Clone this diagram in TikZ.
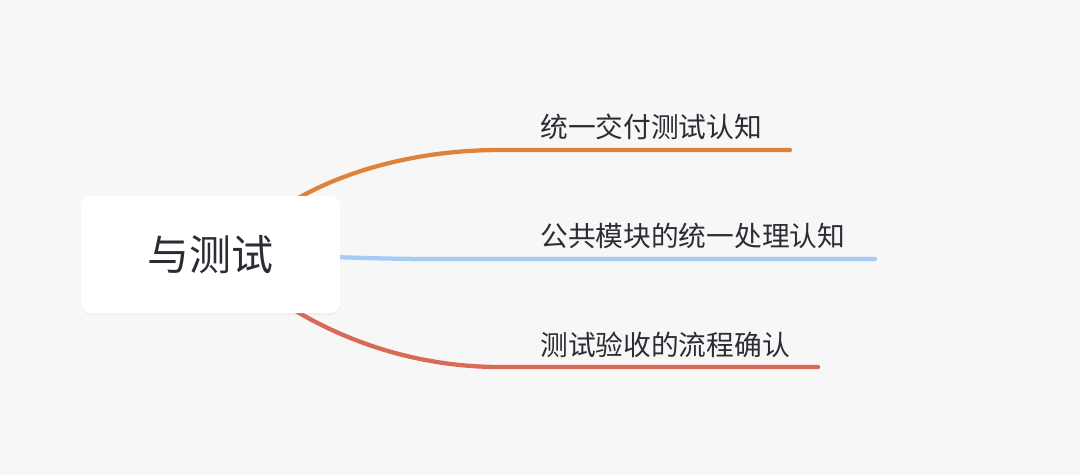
\documentclass[tikz,border=0pt]{standalone}
\usepackage{fontspec}
\setmainfont{Noto Sans CJK SC}
\usetikzlibrary{shadows,backgrounds}
\definecolor{bg}{HTML}{F7F7F7}
\definecolor{txt}{HTML}{2C2C34}
\definecolor{orangeL}{HTML}{DF823A}
\definecolor{blueL}{HTML}{A6CCF5}
\definecolor{redL}{HTML}{D86A57}
\tikzset{
  rootbox/.style={draw=none, fill=white, rounded corners=7.5pt, minimum width=194.25pt, minimum height=87.75pt, inner sep=0,
    text=txt, font=\fontsize{31.5}{36}\selectfont,
    drop shadow={opacity=0.06, shadow xshift=0pt, shadow yshift=-1.5pt}},
  leaf/.style={anchor=west, inner sep=0, text=txt, font=\fontsize{20.8}{25}\selectfont},
  branch/.style={line width=3.2pt, line cap=round},
}
\begin{document}
\begin{tikzpicture}[x=0.75pt,y=-0.75pt]
\begin{scope}[on background layer]
\fill[bg] (0,0) rectangle (1080,475);
\end{scope}
\useasboundingbox (0,0) rectangle (1080,475);
% end points of branches
\coordinate (oe) at (790,150);
\coordinate (be) at (875,259);
\coordinate (re) at (818,367);
% labels
\node[leaf] (l1) at (540,127) {统一交付测试认知};
\node[leaf] (l2) at (540,236) {公共模块的统一处理认知};
\node[leaf] (l3) at (540,345) {测试验收的流程确认};
% root box
\node[rootbox] (root) at (210.5,254.5) {与测试};
% branches (behind the box)
\begin{scope}[on background layer]
\draw[branch, orangeL] ([xshift=-40pt,yshift=-7pt]root.north east) .. controls (325,180) and (400,150) .. (500,150) -- (oe);
\draw[branch, blueL] ([xshift=-6pt,yshift=-1.9pt]root.east) .. controls (400,259) .. (470,259) -- (be);
\draw[branch, redL] ([xshift=-42pt,yshift=7pt]root.south east) .. controls (325,330) and (400,367) .. (500,367) -- (re);
\end{scope}
\end{tikzpicture}
\end{document}
